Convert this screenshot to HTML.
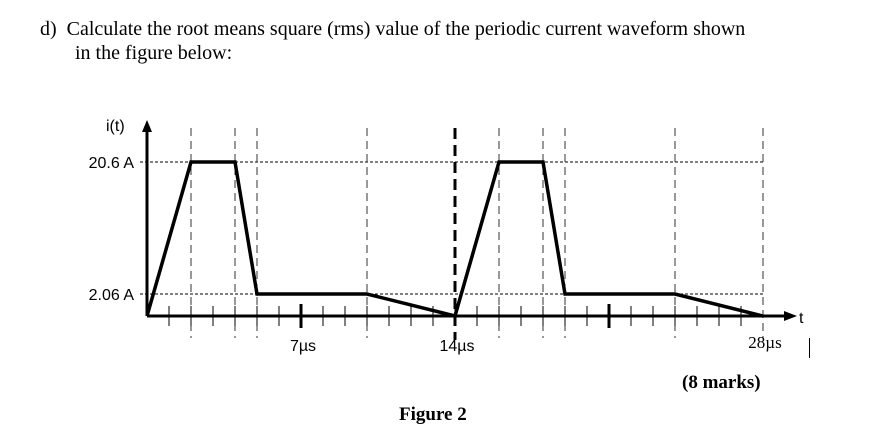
<!DOCTYPE html>
<html><head><meta charset="utf-8"><style>
body{margin:0;background:#fff;width:883px;height:447px;overflow:hidden;position:relative;font-family:"Liberation Serif",serif;}
.q{position:absolute;font-size:20px;color:#000;}
</style></head><body>
<div class="q" style="left:40px;top:18px;">d)&nbsp; Calculate the root means square (rms) value of the periodic current waveform shown</div>
<div class="q" style="left:75px;top:42px;">in the figure below:</div>
<div class="q" style="left:682px;top:372px;font-weight:bold;font-size:19px;">(8 marks)</div>
<div class="q" style="left:399px;top:404px;font-weight:bold;font-size:19px;">Figure 2</div>
<div style="position:absolute;left:809px;top:338px;width:1px;height:20px;background:#000;"></div>
<svg id="chart" width="883" height="447" style="position:absolute;left:0;top:0;" font-family="Liberation Sans, sans-serif"></svg>
<script>
const times=[0,2,4,5,10,14,16,18,19,24,28];
const currents=[0,20.6,20.6,2.06,2.06,0,20.6,20.6,2.06,2.06,0];
const guideTimes=[2,4,5,10,16,18,19,24,28];
const levelValues=[20.6,2.06];
const levelLabels=["20.6 A","2.06 A"];
const timeLabelValues=[7,14,28];
const timeLabels=["7µs","14µs","28µs"];
const X=t=>147+t*22;
// figure is not to scale: piecewise mapping through the two labelled levels
const Y=v=>v<=2.06 ? 316-(v/2.06)*22 : 294-((v-2.06)/(20.6-2.06))*132;
const svg=document.getElementById('chart');
const NS='http://www.w3.org/2000/svg';
function mk(tag,attrs){const e=document.createElementNS(NS,tag);for(const k in attrs)e.setAttribute(k,attrs[k]);svg.appendChild(e);return e;}
levelValues.forEach((v,i)=>{
 const l=mk('line',{x1:140,x2:X(28),y1:Y(v),y2:Y(v),stroke:'#000','stroke-width':1,'stroke-dasharray':'3,2'});
 
 
 const t=mk('text',{x:134,y:Y(v)+6,'text-anchor':'end','font-size':16});
 t.textContent=levelLabels[i];
 
 
});
guideTimes.forEach(t=>{
 const l=mk('line',{x1:X(t),x2:X(t),y1:128,y2:338,stroke:'#333','stroke-width':1,'stroke-dasharray':'8,5'});
 
 
});
const p=mk('line',{x1:X(14),x2:X(14),y1:128,y2:340,stroke:'#000','stroke-width':3,'stroke-dasharray':'11,6'});


for(let t=1;t<28;t++){
 const big=(t===7||t===21);
 const tk=mk('line',{x1:X(t),x2:X(t),y1:big?304:306,y2:big?328:326,stroke:'#000','stroke-width':big?3:1});
 
 
}
const xa=mk('line',{x1:147,x2:790,y1:316,y2:316,stroke:'#000','stroke-width':3});


const xh=mk('polygon',{points:'797,316 784,311 784,321',fill:'#000'});


const ya=mk('line',{x1:147,x2:147,y1:316,y2:128,stroke:'#000','stroke-width':3});


const yh=mk('polygon',{points:'147,120 142,132 152,132',fill:'#000'});


const yt=mk('text',{x:106,y:131,'font-size':16});yt.textContent='i(t)';


const xt=mk('text',{x:799,y:323,'font-size':16});xt.textContent='t';


timeLabelValues.forEach((t,i)=>{
 const e=mk('text',{x:X(t)+2,y:351,'text-anchor':'middle','font-size':16});
 if(t===28){e.setAttribute('font-family','Liberation Serif, serif');e.setAttribute('font-size','17');e.setAttribute('y','348');}
 e.textContent=timeLabels[i];
 
 
});
const w=mk('polyline',{points:times.map((t,i)=>X(t)+','+Y(currents[i])).join(' '),fill:'none',stroke:'#000','stroke-width':3.5,'stroke-linejoin':'miter'});


</script>
</body></html>
